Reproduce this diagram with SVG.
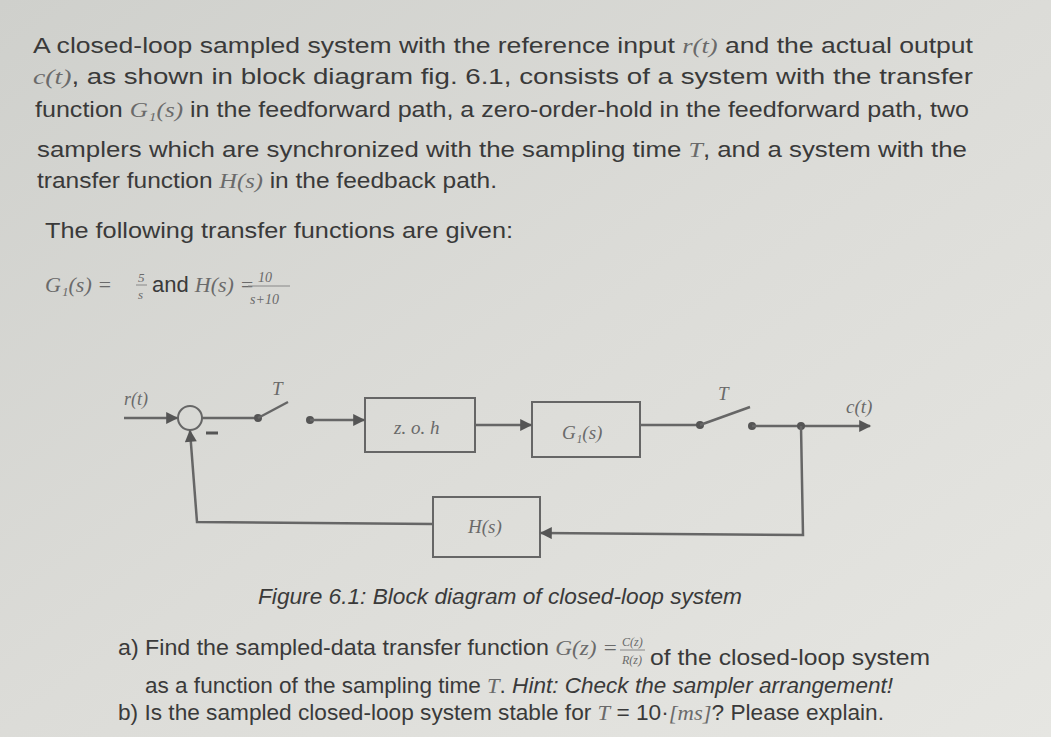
<svg xmlns="http://www.w3.org/2000/svg" width="1051" height="737" viewBox="0 0 1051 737">
<defs>
<linearGradient id="bg" x1="0" y1="0" x2="1" y2="1"><stop offset="0" stop-color="#cfd0cc"/><stop offset="0.5" stop-color="#dcdcd8"/><stop offset="1" stop-color="#e6e6e2"/></linearGradient>
<marker id="ar" viewBox="0 0 10 10" refX="9" refY="5" markerWidth="20" markerHeight="12" markerUnits="userSpaceOnUse" orient="auto"><path d="M0,0L10,5L0,10z" fill="#555"/></marker>
<style>
text{font-family:"Liberation Sans",Arial,sans-serif;fill:#3a3a3a}
.t{font-size:22px}
.m{font-family:"Liberation Serif","Times New Roman",serif;font-style:italic;fill:#6a6a6a}
.b{fill:none;stroke:#666;stroke-width:2}
.l{fill:none;stroke:#666;stroke-width:2.5}
.d{fill:#555}
</style>
</defs>
<rect width="1051" height="737" fill="url(#bg)"/>
<g id="text">
<text class="t" x="33" y="53" textLength="940" lengthAdjust="spacingAndGlyphs">A closed-loop sampled system with the reference input <tspan class="m">r(t)</tspan> and the actual output</text>
<text class="t" x="33" y="84" textLength="940" lengthAdjust="spacingAndGlyphs"><tspan class="m">c(t)</tspan>, as shown in block diagram fig. 6.1, consists of a system with the transfer</text>
<text class="t" x="35" y="117" textLength="934" lengthAdjust="spacingAndGlyphs">function <tspan class="m">G₁(s)</tspan> in the feedforward path, a zero-order-hold in the feedforward path, two</text>
<text class="t" x="37" y="157" textLength="930" lengthAdjust="spacingAndGlyphs">samplers which are synchronized with the sampling time <tspan class="m">T</tspan>, and a system with the</text>
<text class="t" x="37" y="188" textLength="460" lengthAdjust="spacingAndGlyphs">transfer function <tspan class="m">H(s)</tspan> in the feedback path.</text>
<text class="t" x="45" y="238" textLength="468" lengthAdjust="spacingAndGlyphs">The following transfer functions are given:</text>
<text class="t" x="45" y="292"><tspan class="m">G₁(s) =</tspan></text>
<text class="m" x="138" y="282" font-size="13">5</text><line x1="136" y1="285" x2="147" y2="285" stroke="#888"/><text class="m" x="138" y="299" font-size="13">s</text>
<text class="t" x="152" y="292">and <tspan class="m">H(s) =</tspan></text>
<text class="m" x="258" y="282" font-size="14">10</text><line x1="248" y1="286" x2="290" y2="286" stroke="#888"/><text class="m" x="250" y="304" font-size="14">s+10</text>
<text class="t" x="258" y="604" font-style="italic" textLength="484" lengthAdjust="spacingAndGlyphs">Figure 6.1: Block diagram of closed-loop system</text>
<text class="t" x="118" y="655" textLength="500" lengthAdjust="spacingAndGlyphs">a)  Find the sampled-data transfer function <tspan class="m">G(z) =</tspan></text>
<text class="m" x="622" y="646" font-size="12">C(z)</text><line x1="620" y1="650" x2="645" y2="650" stroke="#888"/><text class="m" x="622" y="664" font-size="12">R(z)</text>
<text class="t" x="650" y="665" textLength="280" lengthAdjust="spacingAndGlyphs">of the closed-loop system</text>
<text class="t" x="145" y="693" textLength="748" lengthAdjust="spacingAndGlyphs">as a function of the sampling time <tspan class="m">T</tspan>. <tspan font-style="italic">Hint: Check the sampler arrangement!</tspan></text>
<text class="t" x="118" y="720" textLength="766" lengthAdjust="spacingAndGlyphs">b)  Is the sampled closed-loop system stable for <tspan class="m">T</tspan> = 10·<tspan class="m">[ms]</tspan>? Please explain.</text>
</g>
<g id="sum"><circle cx="190" cy="418" r="12" class="b"/><line x1="206" y1="433" x2="218" y2="433" stroke="#555" stroke-width="3"/></g>
<g id="zoh"><rect x="365" y="398" width="110" height="54" class="b"/><text class="m" x="394" y="434" font-size="19">z. o. h</text></g>
<g id="g1"><rect x="532" y="402" width="108" height="55" class="b"/><text class="m" x="562" y="439" font-size="19">G₁(s)</text></g>
<g id="h"><rect x="433" y="497" width="107" height="60" class="b"/><text class="m" x="468" y="533" font-size="19">H(s)</text></g>
<g id="labels">
<text class="m" x="124" y="405" font-size="18">r(t)</text>
<text class="m" x="272" y="395" font-size="19">T</text>
<text class="m" x="718" y="400" font-size="19">T</text>
<text class="m" x="846" y="413" font-size="19">c(t)</text>
</g>
<g id="connectors">
<line x1="124" y1="418" x2="177" y2="418" class="l" marker-end="url(#ar)"/>
<line x1="202" y1="418" x2="258" y2="418" class="l"/>
<circle cx="258" cy="418" r="4" class="d"/><line x1="258" y1="418" x2="288" y2="402" class="l"/>
<circle cx="310" cy="420" r="4" class="d"/>
<line x1="310" y1="420" x2="364" y2="420" class="l" marker-end="url(#ar)"/>
<line x1="475" y1="425" x2="531" y2="425" class="l" marker-end="url(#ar)"/>
<line x1="640" y1="425" x2="700" y2="425" class="l"/>
<circle cx="700" cy="425" r="4" class="d"/><line x1="700" y1="425" x2="750" y2="407" class="l"/>
<circle cx="752" cy="426" r="4" class="d"/>
<line x1="752" y1="426" x2="870" y2="426" class="l" marker-end="url(#ar)"/>
<circle cx="801" cy="426" r="4" class="d"/>
<polyline points="801,426 803,535 541,533" class="l" marker-end="url(#ar)"/>
<polyline points="433,524 197,522 190,431" class="l" marker-end="url(#ar)"/>
</g>
</svg>
